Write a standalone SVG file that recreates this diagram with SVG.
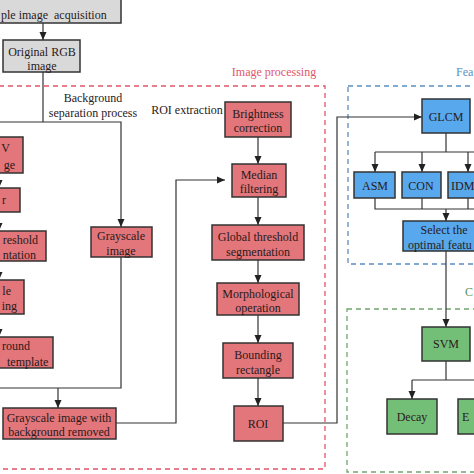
<svg xmlns="http://www.w3.org/2000/svg" width="474" height="474" viewBox="0 0 474 474">
<defs>
<style>
text{font-family:"Liberation Serif","Times New Roman",serif;font-size:12px;fill:#2a1a1a;text-anchor:middle}
.s{text-anchor:start}.e{text-anchor:end}
.box{stroke:#333;stroke-width:1.5}
.red{fill:#e3767a}.gray{fill:#d9d9d9}.blue{fill:#57a8ec}.green{fill:#74bf78}
.ln{stroke:#333;stroke-width:1.2;fill:none}
.ar{marker-end:url(#ah)}
</style>
<marker id="ah" markerWidth="8" markerHeight="8" refX="8" refY="4" orient="auto" markerUnits="userSpaceOnUse"><path d="M0,0.5 L8,4 L0,7.5 z" fill="#222"/></marker>
</defs>
<rect width="474" height="474" fill="#fff"/>

<g id="regions">
<rect x="-10" y="86" width="335" height="383" fill="none" stroke="#e0566a" stroke-width="1.3" stroke-dasharray="5,4"/>
<text x="274" y="76" style="fill:#e0566a">Image processing</text>
<rect x="348" y="86" width="140" height="178" fill="none" stroke="#5b8ec2" stroke-width="1.3" stroke-dasharray="5,4"/>
<text class="s" x="456" y="76" style="fill:#5b8ec2">Fea</text>
<rect x="347" y="309" width="140" height="163" fill="none" stroke="#6fa56f" stroke-width="1.3" stroke-dasharray="5,4"/>
<text class="s" x="465" y="296" style="fill:#5a8f5a">C</text>
</g>

<g id="connectors">
<line class="ln ar" x1="43" y1="23" x2="43" y2="40"/>
<polyline class="ln" points="43,72 43,122"/>
<polyline class="ln ar" points="0,122 121,122 121,227"/>
<line class="ln ar" x1="-1" y1="173" x2="-1" y2="188"/>
<line class="ln ar" x1="-1" y1="212" x2="-1" y2="231"/>
<line class="ln ar" x1="-1" y1="261" x2="-1" y2="280"/>
<line class="ln ar" x1="-1" y1="314" x2="-1" y2="337"/>
<polyline class="ln" points="121,257 121,388 0,388"/>
<line class="ln ar" x1="58" y1="388" x2="58" y2="408"/>
<polyline class="ln ar" points="116,423 176,423 176,180 225,180"/>
<line class="ln ar" x1="258" y1="137" x2="258" y2="164"/>
<line class="ln ar" x1="258" y1="197" x2="258" y2="225"/>
<line class="ln ar" x1="258" y1="260" x2="258" y2="283"/>
<line class="ln ar" x1="258" y1="315" x2="258" y2="343"/>
<line class="ln ar" x1="258" y1="378" x2="258" y2="406"/>
<polyline class="ln ar" points="283,423 337,423 337,117 422,117"/>
<polyline class="ln" points="446,133 446,152"/>
<line class="ln" x1="375" y1="152" x2="480" y2="152"/>
<line class="ln ar" x1="375" y1="152" x2="375" y2="172"/>
<line class="ln ar" x1="422" y1="152" x2="422" y2="172"/>
<line class="ln ar" x1="468" y1="152" x2="468" y2="172"/>
<polyline class="ln" points="375,198 375,209 480,209"/>
<line class="ln" x1="422" y1="198" x2="422" y2="209"/>
<line class="ln" x1="468" y1="198" x2="468" y2="209"/>
<line class="ln ar" x1="446" y1="209" x2="446" y2="221"/>
<line class="ln ar" x1="446" y1="251" x2="446" y2="327"/>
<polyline class="ln" points="446,361 446,380"/>
<line class="ln" x1="412" y1="380" x2="480" y2="380"/>
<line class="ln ar" x1="412" y1="380" x2="412" y2="399"/>
</g>

<g id="n-acq"><rect class="box gray" x="-10" y="-2" width="131" height="25"/><text class="s" x="1" y="19" style="white-space:pre">ple image  acquisition</text></g>
<g id="n-rgb"><rect class="box gray" x="3" y="40" width="77" height="32"/><text x="42" y="56">Original RGB</text><text x="42" y="70">image</text></g>
<g id="n-bgsep-label"><text x="93" y="102">Background</text><text x="93" y="117">separation process</text></g>
<g id="n-roiext-label"><text x="187" y="114">ROI extraction</text></g>

<g id="n-hsv"><rect class="box red" x="-10" y="137" width="33" height="36"/><text class="e" x="10" y="152">V</text><text class="e" x="15" y="169">ge</text></g>
<g id="n-filter"><rect class="box red" x="-10" y="188" width="30" height="24"/><text class="e" x="6" y="204">r</text></g>
<g id="n-thresh"><rect class="box red" x="-10" y="231" width="56" height="30"/><text class="e" x="38" y="244">reshold</text><text class="e" x="36" y="259">ntation</text></g>
<g id="n-le"><rect class="box red" x="-10" y="280" width="34" height="34"/><text class="e" x="11" y="295">le</text><text class="e" x="17" y="310">ing</text></g>
<g id="n-template"><rect class="box red" x="-10" y="337" width="63" height="31"/><text class="e" x="30" y="350">round</text><text class="s" x="7" y="366">template</text></g>

<g id="n-gray"><rect class="box red" x="91" y="227" width="61" height="30"/><text x="121" y="240">Grayscale</text><text x="121" y="255">image</text></g>
<g id="n-graybg"><rect class="box red" x="3" y="408" width="113" height="31"/><text x="59" y="422">Grayscale image with</text><text x="59" y="436">background removed</text></g>

<g id="n-bright"><rect class="box red" x="225" y="102" width="66" height="35"/><text x="258" y="118">Brightness</text><text x="258" y="132">correction</text></g>
<g id="n-median"><rect class="box red" x="232" y="164" width="54" height="33"/><text x="259" y="179">Median</text><text x="259" y="193">filtering</text></g>
<g id="n-global"><rect class="box red" x="212" y="225" width="92" height="35"/><text x="258" y="241">Global threshold</text><text x="258" y="256">segmentation</text></g>
<g id="n-morph"><rect class="box red" x="217" y="283" width="82" height="32"/><text x="258" y="298">Morphological</text><text x="258" y="312">operation</text></g>
<g id="n-bound"><rect class="box red" x="223" y="343" width="70" height="35"/><text x="258" y="359">Bounding</text><text x="258" y="374">rectangle</text></g>
<g id="n-roi"><rect class="box red" x="234" y="406" width="49" height="35"/><text x="258" y="428">ROI</text></g>

<g id="n-glcm"><rect class="box blue" x="422" y="99" width="48" height="34"/><text x="446" y="121">GLCM</text></g>
<g id="n-asm"><rect class="box blue" x="354" y="172" width="41" height="26"/><text x="375" y="190">ASM</text></g>
<g id="n-con"><rect class="box blue" x="402" y="172" width="39" height="26"/><text x="421" y="190">CON</text></g>
<g id="n-idm"><rect class="box blue" x="448" y="172" width="40" height="26"/><text class="s" x="451" y="190">IDM</text></g>
<g id="n-select"><rect class="box blue" x="403" y="221" width="85" height="30"/><text x="444" y="234">Select the</text><text class="s" x="408" y="249">optimal featu</text></g>

<g id="n-svm"><rect class="box green" x="422" y="327" width="48" height="34"/><text x="446" y="348">SVM</text></g>
<g id="n-decay"><rect class="box green" x="387" y="399" width="50" height="35"/><text x="412" y="421">Decay</text></g>
<g id="n-e"><rect class="box green" x="458" y="399" width="30" height="35"/><text class="s" x="462" y="421">E</text></g>
</svg>
